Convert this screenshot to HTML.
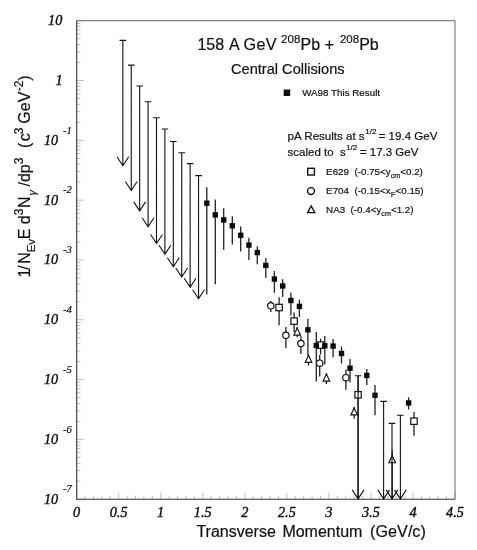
<!DOCTYPE html>
<html><head><meta charset="utf-8"><title>Photon spectrum</title>
<style>html,body{margin:0;padding:0;background:#fff;}body{width:477px;height:550px;overflow:hidden;}svg{display:block;}
.s{font-family:"Liberation Sans",sans-serif;fill:#111;stroke:#111;stroke-width:0.2;}.t{font-family:"Liberation Serif",serif;font-style:italic;fill:#111;stroke:#111;stroke-width:0.4;}
</style></head><body>
<svg width="477" height="550" viewBox="0 0 477 550">
<rect width="477" height="550" fill="#fff"/>
<path d="M76.7 20.70h7 M76.7 62.51h3.7 M76.7 51.97h3.7 M76.7 44.50h3.7 M76.7 38.71h3.7 M76.7 33.97h3.7 M76.7 29.97h3.7 M76.7 26.50h3.7 M76.7 23.44h3.7 M76.7 80.51h7 M76.7 122.32h3.7 M76.7 111.79h3.7 M76.7 104.31h3.7 M76.7 98.52h3.7 M76.7 93.78h3.7 M76.7 89.78h3.7 M76.7 86.31h3.7 M76.7 83.25h3.7 M76.7 140.32h7 M76.7 182.13h3.7 M76.7 171.60h3.7 M76.7 164.13h3.7 M76.7 158.33h3.7 M76.7 153.59h3.7 M76.7 149.59h3.7 M76.7 146.12h3.7 M76.7 143.06h3.7 M76.7 200.14h7 M76.7 241.94h3.7 M76.7 231.41h3.7 M76.7 223.94h3.7 M76.7 218.14h3.7 M76.7 213.41h3.7 M76.7 209.40h3.7 M76.7 205.93h3.7 M76.7 202.87h3.7 M76.7 259.95h7 M76.7 301.76h3.7 M76.7 291.22h3.7 M76.7 283.75h3.7 M76.7 277.96h3.7 M76.7 273.22h3.7 M76.7 269.22h3.7 M76.7 265.75h3.7 M76.7 262.69h3.7 M76.7 319.76h7 M76.7 361.57h3.7 M76.7 351.04h3.7 M76.7 343.56h3.7 M76.7 337.77h3.7 M76.7 333.03h3.7 M76.7 329.03h3.7 M76.7 325.56h3.7 M76.7 322.50h3.7 M76.7 379.57h7 M76.7 421.38h3.7 M76.7 410.85h3.7 M76.7 403.38h3.7 M76.7 397.58h3.7 M76.7 392.84h3.7 M76.7 388.84h3.7 M76.7 385.37h3.7 M76.7 382.31h3.7 M76.7 439.39h7 M76.7 481.19h3.7 M76.7 470.66h3.7 M76.7 463.19h3.7 M76.7 457.39h3.7 M76.7 452.66h3.7 M76.7 448.65h3.7 M76.7 445.18h3.7 M76.7 442.12h3.7 M76.7 499.20h7 M76.60 499.2v-6.5 M85.01 499.2v-3.4 M93.42 499.2v-3.4 M101.83 499.2v-3.4 M110.24 499.2v-3.4 M118.65 499.2v-6.5 M127.06 499.2v-3.4 M135.47 499.2v-3.4 M143.88 499.2v-3.4 M152.29 499.2v-3.4 M160.70 499.2v-6.5 M169.11 499.2v-3.4 M177.52 499.2v-3.4 M185.93 499.2v-3.4 M194.34 499.2v-3.4 M202.75 499.2v-6.5 M211.16 499.2v-3.4 M219.57 499.2v-3.4 M227.98 499.2v-3.4 M236.39 499.2v-3.4 M244.80 499.2v-6.5 M253.21 499.2v-3.4 M261.62 499.2v-3.4 M270.03 499.2v-3.4 M278.44 499.2v-3.4 M286.85 499.2v-6.5 M295.26 499.2v-3.4 M303.67 499.2v-3.4 M312.08 499.2v-3.4 M320.49 499.2v-3.4 M328.90 499.2v-6.5 M337.31 499.2v-3.4 M345.72 499.2v-3.4 M354.13 499.2v-3.4 M362.54 499.2v-3.4 M370.95 499.2v-6.5 M379.36 499.2v-3.4 M387.77 499.2v-3.4 M396.18 499.2v-3.4 M404.59 499.2v-3.4 M413.00 499.2v-6.5 M421.41 499.2v-3.4 M429.82 499.2v-3.4 M438.23 499.2v-3.4 M446.64 499.2v-3.4 M455.05 499.2v-6.5" stroke="#888" stroke-width="0.55" fill="none"/>
<path d="M76.7 20.7H455.0V499.2" stroke="#666" stroke-width="1" fill="none"/>
<path d="M76.7 20.7V499.2H455.0" stroke="#333" stroke-width="1.1" fill="none"/>
<text class="t" x="48.1" y="25.2" font-size="14.2">10</text>
<text class="t" x="55.4" y="85.0" font-size="14.2">1</text>
<text class="t" x="43.9" y="144.8" font-size="14.2">10</text>
<text class="t" x="63.1" y="133.5" font-size="10.6" style="stroke-width:0.2">-1</text>
<text class="t" x="43.9" y="204.6" font-size="14.2">10</text>
<text class="t" x="63.1" y="193.3" font-size="10.6" style="stroke-width:0.2">-2</text>
<text class="t" x="43.9" y="264.4" font-size="14.2">10</text>
<text class="t" x="63.1" y="253.1" font-size="10.6" style="stroke-width:0.2">-3</text>
<text class="t" x="43.9" y="324.3" font-size="14.2">10</text>
<text class="t" x="63.1" y="313.0" font-size="10.6" style="stroke-width:0.2">-4</text>
<text class="t" x="43.9" y="384.1" font-size="14.2">10</text>
<text class="t" x="63.1" y="372.8" font-size="10.6" style="stroke-width:0.2">-5</text>
<text class="t" x="43.9" y="443.9" font-size="14.2">10</text>
<text class="t" x="63.1" y="432.6" font-size="10.6" style="stroke-width:0.2">-6</text>
<text class="t" x="43.9" y="503.7" font-size="14.2">10</text>
<text class="t" x="63.1" y="492.4" font-size="10.6" style="stroke-width:0.2">-7</text>
<text class="t" x="76.6" y="516.6" font-size="14.3" text-anchor="middle">0</text>
<text class="t" x="118.6" y="516.6" font-size="14.3" text-anchor="middle">0.5</text>
<text class="t" x="160.7" y="516.6" font-size="14.3" text-anchor="middle">1</text>
<text class="t" x="202.8" y="516.6" font-size="14.3" text-anchor="middle">1.5</text>
<text class="t" x="244.8" y="516.6" font-size="14.3" text-anchor="middle">2</text>
<text class="t" x="286.9" y="516.6" font-size="14.3" text-anchor="middle">2.5</text>
<text class="t" x="328.9" y="516.6" font-size="14.3" text-anchor="middle">3</text>
<text class="t" x="370.9" y="516.6" font-size="14.3" text-anchor="middle">3.5</text>
<text class="t" x="413.0" y="516.6" font-size="14.3" text-anchor="middle">4</text>
<text class="t" x="455.0" y="516.6" font-size="14.3" text-anchor="middle">4.5</text>
<text class="s" y="536.5" font-size="16"><tspan x="196.4">Transverse</tspan><tspan x="282.4">Momentum</tspan><tspan x="370.1" font-size="16.2">(GeV/c)</tspan></text>
<g transform="translate(30.3,277) rotate(-90)">
<text class="s" x="-0.6" y="0" font-size="16">1</text>
<text class="s" x="7.0" y="0" font-size="16">/</text>
<text class="s" x="13.2" y="0" font-size="16">N</text>
<text class="s" x="24.7" y="5" font-size="11.5">Ev</text>
<text class="s" x="37.7" y="0" font-size="16">E</text>
<text class="s" x="52.7" y="0" font-size="16">d</text>
<text class="s" x="61.7" y="-7.5" font-size="12">3</text>
<text class="s" x="69.1" y="0" font-size="16">N</text>
<text class="s" x="81.5" y="5.5" font-size="11" font-style="italic">γ</text>
<text class="s" x="90.5" y="0" font-size="16">/dp</text>
<text class="s" x="112.8" y="-7.5" font-size="12">3</text>
<text class="s" x="129" y="0" font-size="16">(</text>
<text class="s" x="135.7" y="0" font-size="16">c</text>
<text class="s" x="142.7" y="-7.5" font-size="12">3</text>
<text class="s" x="153.3" y="0" font-size="16">GeV</text>
<text class="s" x="185.7" y="-7.4" font-size="12">-2</text>
<text class="s" x="196.2" y="0" font-size="16">)</text>
</g>
<text class="s" y="50.4" font-size="16"><tspan x="197.4">158</tspan><tspan x="229.1">A</tspan><tspan x="243.4" font-size="16.2" letter-spacing="0.4">GeV</tspan><tspan x="281.1" font-size="11.5" dy="-7.4">208</tspan><tspan x="300.6" dy="7.4">Pb</tspan><tspan x="324.8">+</tspan><tspan x="339.9" font-size="11.5" dy="-7.4">208</tspan><tspan x="359.2" dy="7.4">Pb</tspan></text>
<text class="s" x="231" y="74.1" font-size="14.6">Central Collisions</text>
<rect x="283.7" y="89.5" width="6.5" height="6.5" fill="#111"/>
<text class="s" x="302.2" y="95.8" font-size="9.8">WA98 This Result</text>
<text class="s" x="287.6" y="140" font-size="11.55">pA Results at s<tspan font-size="8" dy="-6.2" dx="0.6">1/2</tspan><tspan dy="6.2" dx="-0.9"> = 19.4 GeV</tspan></text>
<text class="s" x="287.6" y="156.4" font-size="11.5" xml:space="preserve">scaled to  s<tspan font-size="8" dy="-6.2" dx="0.4">1/2</tspan><tspan dy="6.2" dx="-0.6"> = 17.3 GeV</tspan></text>
<rect x="307.7" y="168.3" width="6.7" height="6.7" fill="none" stroke="#111" stroke-width="1.4"/>
<text class="s" x="326.1" y="175.1" font-size="9.8" xml:space="preserve">E629  (-0.75&lt;y<tspan font-size="7.2" dy="3">cm</tspan><tspan dy="-3">&lt;0.2)</tspan></text>
<circle cx="311" cy="191.1" r="3.45" fill="none" stroke="#111" stroke-width="1.4"/>
<text class="s" x="326.1" y="194" font-size="9.8" xml:space="preserve">E704  (-0.15&lt;x<tspan font-size="8" dy="3">F</tspan><tspan dy="-3">&lt;0.15)</tspan></text>
<path d="M311.2 206L314.8 212.6H307.6Z" fill="none" stroke="#111" stroke-width="1.35"/>
<text class="s" x="326.1" y="212.8" font-size="9.8" xml:space="preserve">NA3  (-0.4&lt;y<tspan font-size="7.2" dy="3">cm</tspan><tspan dy="-3">&lt;1.2)</tspan></text>
<path d="M270.8 300.7V312.0 M285.9 327.0V348.3 M300.9 336.0V354.0 M319.7 355.0V376.6 M345.9 369.5V389.7 M279.1 297.2V325.3 M294.1 312.5V332.2 M320.6 338.8V354.5 M358.05 376.2V497.5 M414.0 412.0V435.7 M297.2 327.0V337.3 M308.5 355.0V365.6 M326.4 373.0V384.0 M354.2 407.0V418.7 M392.2 450.3V499.0" stroke="#222" stroke-width="1.3" fill="none"/>
<circle cx="270.8" cy="305.8" r="3.2" fill="#fff" stroke="#111" stroke-width="1.2"/>
<circle cx="285.9" cy="335.3" r="3.2" fill="#fff" stroke="#111" stroke-width="1.2"/>
<circle cx="300.9" cy="343.5" r="3.2" fill="#fff" stroke="#111" stroke-width="1.2"/>
<circle cx="319.7" cy="363.2" r="3.2" fill="#fff" stroke="#111" stroke-width="1.2"/>
<circle cx="345.9" cy="377.7" r="3.2" fill="#fff" stroke="#111" stroke-width="1.2"/>
<rect x="275.90" y="304.30" width="6.4" height="6.4" fill="#fff" stroke="#111" stroke-width="1.2"/>
<rect x="290.90" y="317.90" width="6.4" height="6.4" fill="#fff" stroke="#111" stroke-width="1.2"/>
<rect x="317.40" y="341.90" width="6.4" height="6.4" fill="#fff" stroke="#111" stroke-width="1.2"/>
<rect x="354.85" y="391.60" width="6.4" height="6.4" fill="#fff" stroke="#111" stroke-width="1.2"/>
<rect x="410.80" y="418.00" width="6.4" height="6.4" fill="#fff" stroke="#111" stroke-width="1.2"/>
<path d="M297.2 328.10L300.50 335.10H293.90Z" fill="#fff" stroke="#111" stroke-width="1.15"/>
<path d="M308.5 355.30L311.80 362.30H305.20Z" fill="#fff" stroke="#111" stroke-width="1.15"/>
<path d="M326.4 374.10L329.70 381.10H323.10Z" fill="#fff" stroke="#111" stroke-width="1.15"/>
<path d="M354.2 407.90L357.50 414.90H350.90Z" fill="#fff" stroke="#111" stroke-width="1.15"/>
<path d="M392.2 455.70L395.50 462.70H388.90Z" fill="#fff" stroke="#111" stroke-width="1.15"/>
<path d="M119.55 40.4h6.6M122.85 40.4V165.80M116.95 156.80L122.85 165.80L128.75 156.80 M127.96 65.1h6.6M131.26 65.1V190.50M125.36 181.50L131.26 190.50L137.16 181.50 M136.37 86.0h6.6M139.67 86.0V210.90M133.77 201.90L139.67 210.90L145.57 201.90 M144.78 101.7h6.6M148.08 101.7V226.70M142.18 217.70L148.08 226.70L153.98 217.70 M153.19 117.7h6.6M156.50 117.7V243.50M150.59 234.50L156.50 243.50L162.40 234.50 M161.60 129.0h6.6M164.90 129.0V254.20M159.00 245.20L164.90 254.20L170.80 245.20 M170.01 141.5h6.6M173.31 141.5V266.80M167.41 257.80L173.31 266.80L179.22 257.80 M178.42 152.8h6.6M181.72 152.8V277.00M175.82 268.00L181.72 277.00L187.62 268.00 M186.83 163.6h6.6M190.13 163.6V287.20M184.23 278.20L190.13 287.20L196.03 278.20 M195.25 175.6h6.6M198.55 175.6V298.70M192.65 289.70L198.55 298.70L204.45 289.70 M354.80 375.8h6.6M358.10 375.8V498.90M352.20 489.90L358.10 498.90L364.00 489.90 M380.30 401.4h6.6M383.60 401.4V498.90M377.70 489.90L383.60 498.90L389.50 489.90 M388.70 423.4h6.6M392.00 423.4V498.90M386.10 489.90L392.00 498.90L397.90 489.90 M397.10 415.2h6.6M400.40 415.2V498.90M394.50 489.90L400.40 498.90L406.30 489.90" stroke="#141414" stroke-width="1.12" fill="none" stroke-linejoin="miter"/>
<path d="M206.8 187.3V294.3 M215.3 199.6V284.2 M223.7 208.3V249.8 M232.3 216.2V244.6 M240.7 226.5V251.4 M248.9 237.7V260.1 M257.3 246.2V264.3 M265.8 257.9V278.0 M274.4 270.9V292.7 M282.7 279.2V297.0 M290.9 292.7V315.4 M299.4 299.8V317.1 M307.9 318.8V355.5 M316.3 331.9V381.6 M324.8 336.1V364.6 M333.1 339.0V357.3 M341.5 346.5V363.5 M350.0 359.1V382.5 M366.8 368.9V385.0 M375.0 385.0V415.2 M408.6 397.3V409.5" stroke="#222" stroke-width="1.3" fill="none"/>
<rect x="204.10" y="200.50" width="5.4" height="5.4" fill="#0a0a0a"/>
<rect x="212.60" y="212.20" width="5.4" height="5.4" fill="#0a0a0a"/>
<rect x="221.00" y="217.20" width="5.4" height="5.4" fill="#0a0a0a"/>
<rect x="229.60" y="223.10" width="5.4" height="5.4" fill="#0a0a0a"/>
<rect x="238.00" y="232.60" width="5.4" height="5.4" fill="#0a0a0a"/>
<rect x="246.20" y="242.40" width="5.4" height="5.4" fill="#0a0a0a"/>
<rect x="254.60" y="249.90" width="5.4" height="5.4" fill="#0a0a0a"/>
<rect x="263.10" y="262.70" width="5.4" height="5.4" fill="#0a0a0a"/>
<rect x="271.70" y="276.40" width="5.4" height="5.4" fill="#0a0a0a"/>
<rect x="280.00" y="283.30" width="5.4" height="5.4" fill="#0a0a0a"/>
<rect x="288.20" y="297.80" width="5.4" height="5.4" fill="#0a0a0a"/>
<rect x="296.70" y="303.70" width="5.4" height="5.4" fill="#0a0a0a"/>
<rect x="305.20" y="327.10" width="5.4" height="5.4" fill="#0a0a0a"/>
<rect x="313.60" y="342.80" width="5.4" height="5.4" fill="#0a0a0a"/>
<rect x="322.10" y="343.10" width="5.4" height="5.4" fill="#0a0a0a"/>
<rect x="330.40" y="343.40" width="5.4" height="5.4" fill="#0a0a0a"/>
<rect x="338.80" y="350.80" width="5.4" height="5.4" fill="#0a0a0a"/>
<rect x="347.30" y="365.50" width="5.4" height="5.4" fill="#0a0a0a"/>
<rect x="364.10" y="372.70" width="5.4" height="5.4" fill="#0a0a0a"/>
<rect x="372.30" y="392.60" width="5.4" height="5.4" fill="#0a0a0a"/>
<rect x="405.90" y="400.20" width="5.4" height="5.4" fill="#0a0a0a"/>
</svg></body></html>
